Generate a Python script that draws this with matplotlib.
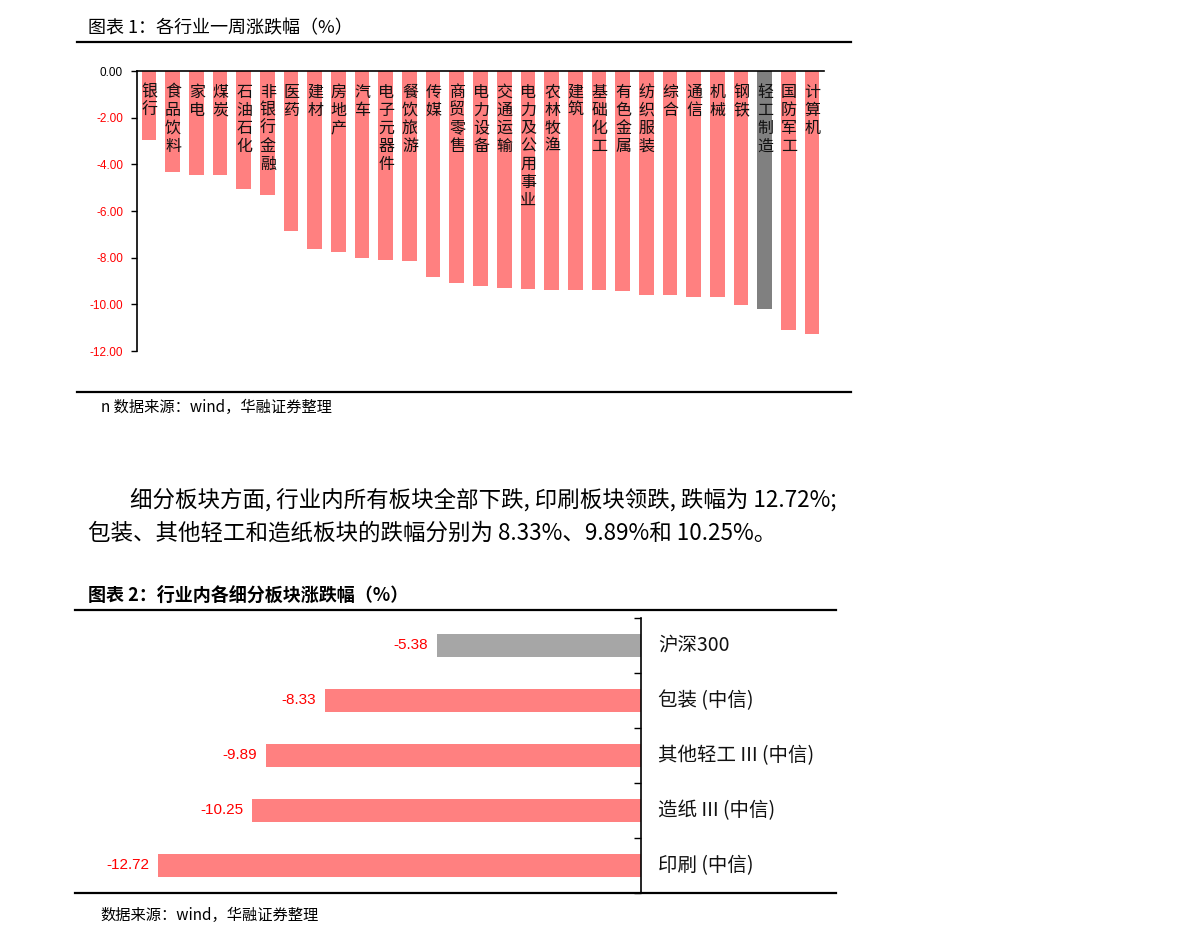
import matplotlib
matplotlib.use('Agg')
import matplotlib.pyplot as plt
from matplotlib.lines import Line2D

plt.rcParams['font.family'] = ['Noto Sans CJK SC', 'DejaVu Sans']

# ---------------- data ----------------
industries = ['银行', '食品饮料', '家电', '煤炭', '石油石化', '非银行金融', '医药', '建材',
              '房地产', '汽车', '电子元器件', '餐饮旅游', '传媒', '商贸零售', '电力设备',
              '交通运输', '电力及公用事业', '农林牧渔', '建筑', '基础化工', '有色金属',
              '纺织服装', '综合', '通信', '机械', '钢铁', '轻工制造', '国防军工', '计算机']
weekly_change = [-2.95, -4.34, -4.45, -4.45, -5.07, -5.33, -6.87, -7.63, -7.76, -8.00,
                 -8.10, -8.13, -8.84, -9.09, -9.23, -9.31, -9.36, -9.40, -9.40, -9.40,
                 -9.43, -9.60, -9.60, -9.69, -9.69, -10.03, -10.19, -11.10, -11.27]
highlight_industry = '轻工制造'
y_ticks_1 = [0, -2, -4, -6, -8, -10, -12]

sub_sectors = ['沪深300', '包装 (中信)', '其他轻工 III (中信)', '造纸 III (中信)', '印刷 (中信)']
sub_change = [-5.38, -8.33, -9.89, -10.25, -12.72]

title_1 = '图表 1：各行业一周涨跌幅（%）'
source_1 = 'n 数据来源：wind，华融证券整理'
para_line1 = '细分板块方面, 行业内所有板块全部下跌, 印刷板块领跌, 跌幅为 12.72%;'
para_line2 = '包装、其他轻工和造纸板块的跌幅分别为 8.33%、9.89%和 10.25%。'
title_2 = '图表 2：行业内各细分板块涨跌幅（%）'
source_2 = '数据来源：wind，华融证券整理'

# ---------------- styling ----------------
PINK = '#FF8080'
DARK_GRAY = '#808080'
LIGHT_GRAY = '#A6A6A6'
RED = '#FF0000'
NUM_FONT = ['Liberation Sans', 'DejaVu Sans']

W, H = 1191, 946
fig = plt.figure(figsize=(W / 100, H / 100), dpi=100)


def fx(px):
    return px / W


def fy(py):
    return 1 - py / H


def rule(x0, x1, y, lw=1.6):
    fig.add_artist(Line2D([fx(x0), fx(x1)], [fy(y), fy(y)], color='black', lw=lw,
                          transform=fig.transFigure))


# ---------------- chart 1 ----------------
fig.text(fx(88), fy(28), title_1, fontsize=13, style='italic', va='center', ha='left')
rule(77, 851, 42)
rule(77, 851, 392)
fig.text(fx(101), fy(407), source_1, fontsize=11, va='center', ha='left')

ax1 = fig.add_axes([fx(137), fy(351), fx(824) - fx(137), fy(71) - fy(351)])
xs = list(range(len(industries)))
colors = [DARK_GRAY if n == highlight_industry else PINK for n in industries]
ax1.bar(xs, weekly_change, width=0.62, color=colors, edgecolor='none', zorder=2)
ax1.set_xlim(-0.5, len(industries) - 0.5)
ax1.set_ylim(-12, 0)
ax1.set_yticks(y_ticks_1)
ax1.set_yticklabels(['%.2f' % v for v in y_ticks_1], fontfamily=NUM_FONT, fontsize=8.5)
for lab, v in zip(ax1.get_yticklabels(), y_ticks_1):
    lab.set_color('black' if v == 0 else RED)
ax1.tick_params(axis='y', direction='out', length=4, width=1, pad=6)
ax1.set_xticks([])
for s in ['right', 'bottom']:
    ax1.spines[s].set_visible(False)
ax1.spines['top'].set_linewidth(1.2)
ax1.spines['left'].set_linewidth(1.2)
ax1.patch.set_alpha(0)

for i, name in enumerate(industries):
    for k, ch in enumerate(name):
        ax1.annotate(ch, xy=(i, 0), xytext=(0.5, -(21 + 18 * k)), textcoords='offset pixels',
                     ha='center', va='center', fontsize=11.5, color='#111111', zorder=3)

# ---------------- paragraph ----------------
fig.text(fx(130), fy(500), para_line1, fontsize=16.2, va='center', ha='left')
fig.text(fx(88), fy(533), para_line2, fontsize=16.2, va='center', ha='left')

# ---------------- chart 2 ----------------
fig.text(fx(88), fy(595), title_2, fontsize=13, style='italic', fontweight='bold',
         va='center', ha='left')
rule(75, 836, 610)
rule(75, 836, 893)
fig.text(fx(100), fy(915), source_2, fontsize=11, va='center', ha='left')

x_left = 109.7
ax2 = fig.add_axes([fx(x_left), fy(893), fx(641) - fx(x_left), fy(617.7) - fy(893)])
ys = list(range(len(sub_sectors)))
colors2 = [LIGHT_GRAY] + [PINK] * (len(sub_sectors) - 1)
ax2.barh(ys, sub_change, height=0.41, color=colors2, edgecolor='none', zorder=2)
ax2.set_xlim(-14, 0)
ax2.set_ylim(len(sub_sectors) - 0.5, -0.5)
for s in ['left', 'top', 'bottom']:
    ax2.spines[s].set_visible(False)
ax2.spines['right'].set_linewidth(1.2)
ax2.set_xticks([])
ax2.yaxis.tick_right()
ax2.set_yticks([y - 0.5 for y in range(len(sub_sectors) + 1)])
ax2.set_yticklabels([])
ax2.tick_params(axis='y', direction='in', length=5, width=1)
ax2.patch.set_alpha(0)

for y, (name, v) in enumerate(zip(sub_sectors, sub_change)):
    ax2.annotate('%.2f' % v, xy=(v, y), xytext=(-9, 0), textcoords='offset pixels',
                 ha='right', va='center', fontsize=11, color=RED, fontfamily=NUM_FONT)
    ax2.annotate(name, xy=(0, y), xytext=(17, 0), textcoords='offset pixels',
                 ha='left', va='center', fontsize=14, color='#111111')

fig.savefig('out.png', dpi=100)
